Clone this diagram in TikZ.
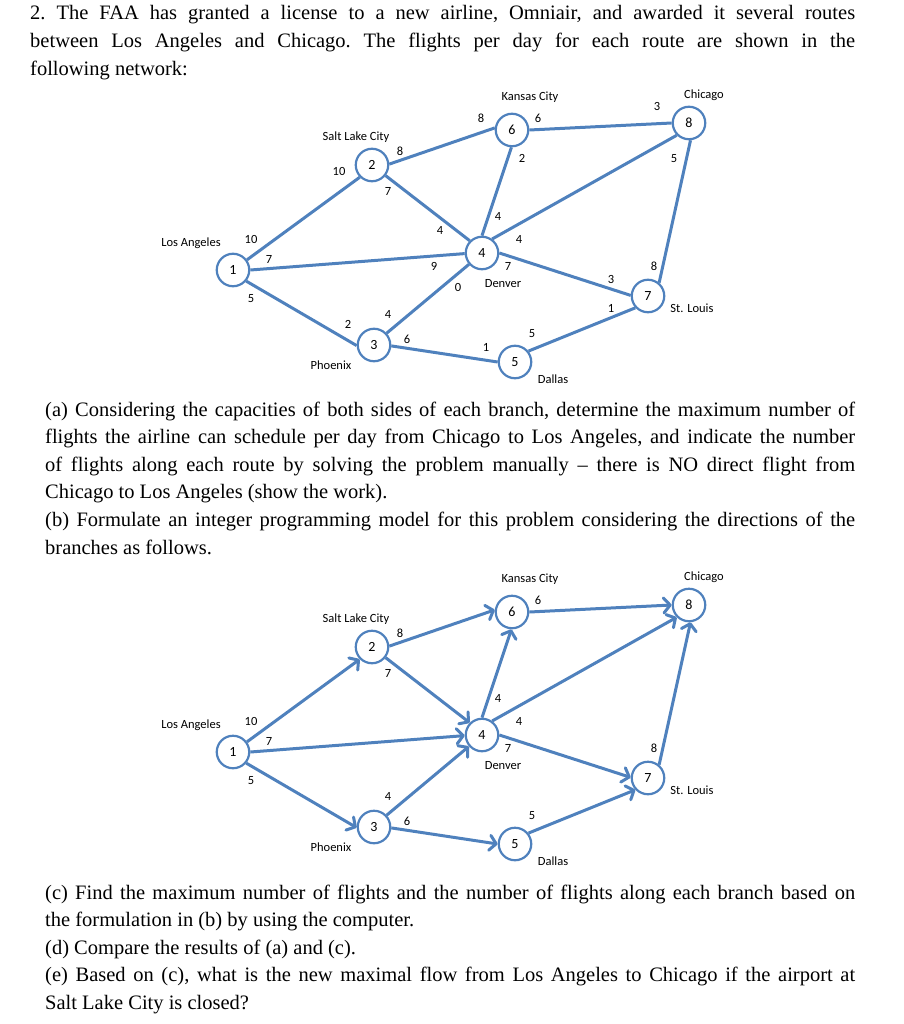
\documentclass[tikz,border=0pt]{standalone}
\usepackage{fontspec}
\setmainfont{Liberation Serif}
\newfontfamily\calibfont{Carlito}
\usetikzlibrary{arrows.meta}

\begin{document}
\begin{tikzpicture}[x=1pt, y=-1pt,
    airport/.style={circle, draw=routeColour, fill=white, line width=2.2pt, minimum size=32.5pt, inner sep=0pt, font=\calibfont\fontsize{14}{14}\selectfont},
    route/.style={draw=routeColour, line width=3pt},
    flow/.style={route, -{Straight Barb[length=6.5pt,width=15pt,round]}},
    city/.style={font=\calibfont\fontsize{12.5}{12.5}\selectfont, inner sep=0pt},
    flights/.style={font=\calibfont\fontsize{12.5}{12.5}\selectfont, inner sep=0pt},
    para/.style={anchor=base west, inner sep=0pt, text width=810pt, align=justify, font=\fontsize{20.5}{27.6}\selectfont\frenchspacing}]
    \def\gap{482}

    \definecolor{routeColour}{HTML}{4F81BD}

    \useasboundingbox (0,0) rectangle (903,1024);

    % Question text
    \node[para, text width=825pt] (intro) at (30,20) {\hangindent=15pt \hangafter=1 2. The FAA has granted a license to a new airline, Omniair, and awarded it several routes\linebreak between Los Angeles and Chicago. The flights per day for each route are shown in the\linebreak following network:};
    \node[para] (partAB) at (45,416) {(a) Considering the capacities of both sides of each branch, determine the maximum number of\linebreak flights the airline can schedule per day from Chicago to Los Angeles, and indicate the number\linebreak of flights along each route by solving the problem manually -- there is NO direct flight from\linebreak Chicago to Los Angeles (show the work).\par
    (b) Formulate an integer programming model for this problem considering the directions of the\linebreak branches as follows.};
    \node[para] (partCE) at (45,899) {(c) Find the maximum number of flights and the number of flights along each branch based on\linebreak the formulation in (b) by using the computer.\par
    (d) Compare the results of (a) and (c).\par
    (e) Based on (c), what is the new maximal flow from Los Angeles to Chicago if the airport at\linebreak Salt Lake City is closed?};

    % Airports: t = both sides network, b = directed network
    \foreach \n/\x/\y in {1/233/270, 2/372/165, 3/374/345, 4/482/253, 5/515/362, 6/512/130, 7/648/296, 8/689/123} {
        \node[airport] (t\n) at (\x,\y) {\n};
        \node[airport] (b\n) at (\x,\y+\gap) {\n};
    }

    % City names
    \foreach \name/\x/\y/\txt in {LA/191/243/Los Angeles, SLC/356/137/Salt Lake City, PHX/331/365/Phoenix, DEN/503/284/Denver, DAL/553/379/Dallas, KC/530/97/Kansas City, CHI/704/95/Chicago, STL/692/308/St. Louis} {
        \node[city] (t\name) at (\x,\y) {\txt};
        \node[city] (b\name) at (\x,\y+\gap) {\txt};
    }

    % Routes, from border angle to border angle
    \foreach \a/\aa/\b/\bb in {1/36/2/225, 1/0/4/182, 1/-40/3/182, 2/3/6/173, 2/-38/4/135, 3/43/4/221, 3/-3/5/180, 4/90/6/-92, 4/54/8/225, 4/0/7/178, 5/39/7/223, 6/0/8/180, 7/50/8/-85} {
        \draw[route] (t\a.\aa) -- (t\b.\bb);
        \draw[flow] (b\a.\aa) -- (b\b.\bb);
    }

    % Flights per day at both ends of each route
    \foreach \x/\y/\c [count=\i] in {251/239/10, 339/171/10, 269/259/7, 434/266/9, 251/299/5, 348/324/2, 400/151/8, 481/118/8, 388/191/7, 440/230/4, 388/314/4, 458/287/0, 407/339/6, 486/347/1, 498/216/4, 522/158/2, 519/239/4, 508/266/7, 611/279/3, 532/334/5, 611/308/1, 538/118/6, 657/106/3, 654/266/8, 674/159/5}
        \node[flights] (tcap\i) at (\x,\y) {\c};

    % Flights per day in the direction of each route
    \foreach \x/\y/\c [count=\i] in {251/239/10, 269/259/7, 251/299/5, 400/151/8, 388/191/7, 388/314/4, 407/339/6, 498/216/4, 519/239/4, 508/266/7, 532/334/5, 538/118/6, 654/266/8}
        \node[flights] (bcap\i) at (\x,\y+\gap) {\c};

\end{tikzpicture}
\end{document}
